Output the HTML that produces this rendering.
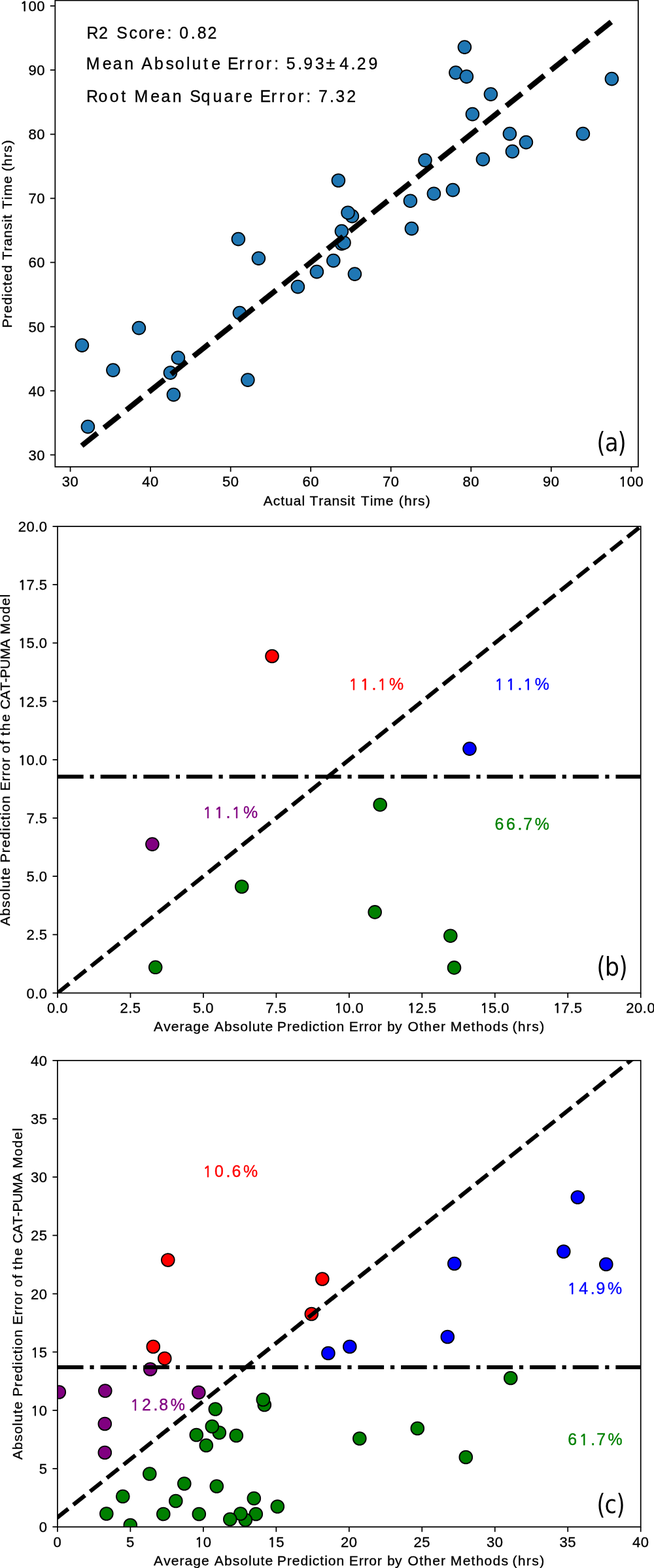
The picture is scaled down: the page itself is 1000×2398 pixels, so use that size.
<!DOCTYPE html>
<html lang="en"><head><meta charset="utf-8"><title>CAT-PUMA transit time prediction</title>
<style>html,body{margin:0;padding:0;background:#fff}svg{display:block}text{font-family:"Liberation Sans",sans-serif;stroke:#000;stroke-width:.35px}.p{font-family:"DejaVu Sans",sans-serif;stroke:none}.o{font-family:NanumGothic,"Liberation Sans",sans-serif;stroke-width:.85px}.t{letter-spacing:0.5px}</style></head><body>
<svg width="1000" height="2398" viewBox="0 0 1000 2398">
<rect width="1000" height="2398" fill="#fff"/>
<defs>
<clipPath id="ca"><rect x="84.3" y="0.65" width="891.5500000000001" height="713.25"/></clipPath>
<clipPath id="cb"><rect x="88.0" y="805.05" width="891.7" height="713.55"/></clipPath>
<clipPath id="cc"><rect x="87.9" y="1621.85" width="891.8000000000001" height="713.3499999999999"/></clipPath>
</defs>
<g clip-path="url(#ca)">
<g fill="#1f77b4" stroke="#000" stroke-width="1.8">
<circle cx="125.4" cy="528.1" r="9.9"/>
<circle cx="134.4" cy="652.6" r="9.9"/>
<circle cx="172.9" cy="566.1" r="9.9"/>
<circle cx="212.4" cy="501.6" r="9.9"/>
<circle cx="260.4" cy="570.1" r="9.9"/>
<circle cx="272.4" cy="547.1" r="9.9"/>
<circle cx="265.4" cy="603.6" r="9.9"/>
<circle cx="364.4" cy="365.6" r="9.9"/>
<circle cx="366.4" cy="478.6" r="9.9"/>
<circle cx="378.9" cy="581.1" r="9.9"/>
<circle cx="395.4" cy="395.1" r="9.9"/>
<circle cx="455.4" cy="438.6" r="9.9"/>
<circle cx="484.4" cy="415.6" r="9.9"/>
<circle cx="509.8" cy="398.6" r="9.9"/>
<circle cx="542.4" cy="419.1" r="9.9"/>
<circle cx="522.4" cy="372.6" r="9.9"/>
<circle cx="526.0" cy="371.2" r="9.9"/>
<circle cx="522.4" cy="353.6" r="9.9"/>
<circle cx="538.4" cy="330.6" r="9.9"/>
<circle cx="532.0" cy="325.2" r="9.9"/>
<circle cx="517.4" cy="276.0" r="9.9"/>
<circle cx="627.4" cy="307.2" r="9.9"/>
<circle cx="663.4" cy="296.2" r="9.9"/>
<circle cx="629.4" cy="349.6" r="9.9"/>
<circle cx="650.0" cy="245.1" r="9.9"/>
<circle cx="692.4" cy="290.6" r="9.9"/>
<circle cx="738.4" cy="243.6" r="9.9"/>
<circle cx="783.4" cy="231.6" r="9.9"/>
<circle cx="779.4" cy="204.6" r="9.9"/>
<circle cx="804.4" cy="217.6" r="9.9"/>
<circle cx="891.4" cy="204.6" r="9.9"/>
<circle cx="935.4" cy="120.6" r="9.9"/>
<circle cx="722.4" cy="174.6" r="9.9"/>
<circle cx="750.4" cy="144.1" r="9.9"/>
<circle cx="696.9" cy="111.1" r="9.9"/>
<circle cx="713.4" cy="117.1" r="9.9"/>
<circle cx="710.4" cy="72.1" r="9.9"/>
</g>
<path d="M125 681.6L934.8 33.4" stroke="#000" stroke-width="8.26" stroke-dasharray="30.55 13.21" fill="none"/>
</g>
<rect x="84.3" y="0.65" width="891.5500000000001" height="713.25" fill="none" stroke="#000" stroke-width="1.75"/>
<path d="M107.55 713.9v7.5M230.09 713.9v7.5M352.63 713.9v7.5M475.17 713.9v7.5M597.71 713.9v7.5M720.25 713.9v7.5M842.79 713.9v7.5M965.33 713.9v7.5M84.3 695.7h-7.5M84.3 597.61h-7.5M84.3 499.52h-7.5M84.3 401.43h-7.5M84.3 303.34h-7.5M84.3 205.25h-7.5M84.3 107.16h-7.5M84.3 9.07h-7.5" stroke="#000" stroke-width="1.75" fill="none"/>
<text transform="translate(107.55 744.2)" font-size="22" text-anchor="middle" class="t">30</text>
<text transform="translate(230.09 744.2)" font-size="22" text-anchor="middle" class="t">40</text>
<text transform="translate(352.63 744.2)" font-size="22" text-anchor="middle" class="t">50</text>
<text transform="translate(475.17 744.2)" font-size="22" text-anchor="middle" class="t">60</text>
<text transform="translate(597.71 744.2)" font-size="22" text-anchor="middle" class="t">70</text>
<text transform="translate(720.25 744.2)" font-size="22" text-anchor="middle" class="t">80</text>
<text transform="translate(842.79 744.2)" font-size="22" text-anchor="middle" class="t">90</text>
<text transform="translate(965.33 744.2)" font-size="22" text-anchor="middle" class="t"><tspan class="o" font-size="19.8">1</tspan>00</text>
<text transform="translate(68.9 703.7)" font-size="22" text-anchor="end" class="t">30</text>
<text transform="translate(68.9 605.61)" font-size="22" text-anchor="end" class="t">40</text>
<text transform="translate(68.9 507.52)" font-size="22" text-anchor="end" class="t">50</text>
<text transform="translate(68.9 409.43)" font-size="22" text-anchor="end" class="t">60</text>
<text transform="translate(68.9 311.34)" font-size="22" text-anchor="end" class="t">70</text>
<text transform="translate(68.9 213.25)" font-size="22" text-anchor="end" class="t">80</text>
<text transform="translate(68.9 115.16)" font-size="22" text-anchor="end" class="t">90</text>
<text transform="translate(68.9 17.07)" font-size="22" text-anchor="end" class="t"><tspan class="o" font-size="19.8">1</tspan>00</text>
<text x="135.30 154.03 168.16 181.89 201.43 216.36 231.75 243.22 260.76 267.81 279.82 297.67 307.89 324.06" y="58.6" font-size="25.4" transform="scale(0.98 1)">R2 Score: 0.82</text>
<text x="134.57 159.90 176.33 194.09 208.22 220.71 240.87 258.65 273.29 290.79 299.59 317.29 329.95 344.08 355.22 372.84 385.34 397.78 415.04 427.80 434.85 446.79 464.43 473.81 491.48 508.58 529.75 547.49 556.97 575.09" y="105.6" font-size="25.4" transform="scale(0.98 1)">Mean Absolute Error: 5.93±4.29</text>
<text x="134.66 153.50 171.25 188.97 196.03 209.57 234.90 251.48 269.04 283.17 296.13 313.88 332.24 349.54 367.18 379.95 394.08 405.68 423.30 435.65 447.89 465.44 477.85 484.91 496.90 514.33 523.73 541.15" y="156" font-size="25.4" transform="scale(0.98 1)">Root Mean Square Error: 7.32</text>
<text x="398.67 413.58 425.00 431.77 444.36 456.95 461.60 468.94 482.45 490.15 502.52 514.89 526.09 531.48 537.28 546.36 560.05 565.62 583.96 595.58 603.75 611.89 624.68 632.81 644.44" y="773.0" font-size="20.9" transform="scale(1.01 1)">Actual Transit Time (hrs)</text>
<text x="-496.66 -481.88 -474.08 -461.61 -449.14 -443.66 -432.36 -425.71 -413.25 -401.62 -393.54 -380.08 -372.42 -360.10 -347.78 -336.64 -331.30 -325.49 -316.31 -302.42 -296.65 -278.12 -266.50 -259.51 -251.43 -238.69 -230.60 -219.03" y="0" font-size="20.9" transform="translate(18.0 0) rotate(-90) scale(1.01 1)">Predicted Transit Time (hrs)</text>
<text class="p" transform="translate(912.52 0) scale(0.8 1)" font-size="41.9"><tspan x="0" y="691.6">(</tspan><tspan x="15.60" y="690" font-size="37.3" textLength="25.72" lengthAdjust="spacingAndGlyphs">a</tspan><tspan x="39.97" y="691.6">)</tspan></text>
<g clip-path="url(#cb)">
<g fill="#ff0000" stroke="#000" stroke-width="1.8">
<circle cx="416" cy="1003.5" r="9.9"/>
</g>
<g fill="#0000ff" stroke="#000" stroke-width="1.8">
<circle cx="718" cy="1145.1" r="9.9"/>
</g>
<g fill="#800080" stroke="#000" stroke-width="1.8">
<circle cx="232.9" cy="1291.1" r="9.9"/>
</g>
<g fill="#008000" stroke="#000" stroke-width="1.8">
<circle cx="369.7" cy="1356.0" r="9.9"/>
<circle cx="237.7" cy="1479.3" r="9.9"/>
<circle cx="581.2" cy="1230.7" r="9.9"/>
<circle cx="573.2" cy="1394.9" r="9.9"/>
<circle cx="688.8" cy="1431.2" r="9.9"/>
<circle cx="694.5" cy="1479.9" r="9.9"/>
</g>
<path d="M88 1518.6L979.7 805.05" stroke="#000" stroke-width="6.2" stroke-dasharray="22.91 9.91" fill="none"/>
<path d="M88 1187.75H979.7" stroke="#000" stroke-width="6.2" stroke-dasharray="39.64 9.91 6.19 9.91" fill="none"/>
</g>
<rect x="88.0" y="805.05" width="891.7" height="713.55" fill="none" stroke="#000" stroke-width="1.75"/>
<path d="M88.0 1518.6v7.5M199.46 1518.6v7.5M310.93 1518.6v7.5M422.39 1518.6v7.5M533.85 1518.6v7.5M645.31 1518.6v7.5M756.77 1518.6v7.5M868.24 1518.6v7.5M979.7 1518.6v7.5M88.0 1518.6h-7.5M88.0 1429.41h-7.5M88.0 1340.21h-7.5M88.0 1251.02h-7.5M88.0 1161.82h-7.5M88.0 1072.63h-7.5M88.0 983.44h-7.5M88.0 894.24h-7.5M88.0 805.05h-7.5" stroke="#000" stroke-width="1.75" fill="none"/>
<text transform="translate(88.0 1548.9)" font-size="22" text-anchor="middle" class="t">0.0</text>
<text transform="translate(199.46 1548.9)" font-size="22" text-anchor="middle" class="t">2.5</text>
<text transform="translate(310.93 1548.9)" font-size="22" text-anchor="middle" class="t">5.0</text>
<text transform="translate(422.39 1548.9)" font-size="22" text-anchor="middle" class="t">7.5</text>
<text transform="translate(533.85 1548.9)" font-size="22" text-anchor="middle" class="t"><tspan class="o" font-size="19.8">1</tspan>0.0</text>
<text transform="translate(645.31 1548.9)" font-size="22" text-anchor="middle" class="t"><tspan class="o" font-size="19.8">1</tspan>2.5</text>
<text transform="translate(756.77 1548.9)" font-size="22" text-anchor="middle" class="t"><tspan class="o" font-size="19.8">1</tspan>5.0</text>
<text transform="translate(868.24 1548.9)" font-size="22" text-anchor="middle" class="t"><tspan class="o" font-size="19.8">1</tspan>7.5</text>
<text transform="translate(979.7 1548.9)" font-size="22" text-anchor="middle" class="t">20.0</text>
<text transform="translate(72.6 1526.6)" font-size="22" text-anchor="end" class="t">0.0</text>
<text transform="translate(72.6 1437.41)" font-size="22" text-anchor="end" class="t">2.5</text>
<text transform="translate(72.6 1348.21)" font-size="22" text-anchor="end" class="t">5.0</text>
<text transform="translate(72.6 1259.02)" font-size="22" text-anchor="end" class="t">7.5</text>
<text transform="translate(72.6 1169.82)" font-size="22" text-anchor="end" class="t"><tspan class="o" font-size="19.8">1</tspan>0.0</text>
<text transform="translate(72.6 1080.63)" font-size="22" text-anchor="end" class="t"><tspan class="o" font-size="19.8">1</tspan>2.5</text>
<text transform="translate(72.6 991.44)" font-size="22" text-anchor="end" class="t"><tspan class="o" font-size="19.8">1</tspan>5.0</text>
<text transform="translate(72.6 902.24)" font-size="22" text-anchor="end" class="t"><tspan class="o" font-size="19.8">1</tspan>7.5</text>
<text transform="translate(72.6 813.05)" font-size="22" text-anchor="end" class="t">20.0</text>
<text x="232.73 247.67 259.12 271.74 279.70 292.33 304.95 316.57 324.51 339.49 352.15 363.64 376.30 381.98 394.64 401.48 413.11 419.57 434.46 442.37 454.95 467.52 473.11 484.51 491.27 496.86 509.44 521.06 528.58 543.28 551.00 558.73 571.11 578.07 586.08 598.11 608.56 617.43 634.86 641.84 654.65 667.45 674.41 682.05 700.65 713.47 720.47 733.29 746.10 758.92 769.37 775.63 783.94 796.91 805.21 817.01" y="1576.6" font-size="20.9" transform="scale(1.01 1)">Average Absolute Prediction Error by Other Methods (hrs)</text>
<text x="-1401.77 -1386.90 -1374.35 -1362.97 -1350.41 -1344.84 -1332.28 -1325.55 -1313.92 -1306.17 -1291.32 -1283.46 -1270.93 -1258.40 -1252.85 -1241.49 -1234.78 -1229.23 -1216.70 -1205.08 -1197.51 -1182.69 -1174.86 -1167.03 -1154.53 -1147.57 -1140.53 -1127.42 -1121.61 -1114.18 -1106.56 -1093.12 -1081.50 -1074.08 -1059.36 -1045.79 -1033.39 -1026.80 -1013.24 -998.51 -981.47 -967.53 -960.63 -942.25 -929.66 -917.07 -904.48" y="0" font-size="20.9" transform="translate(15.2 0) rotate(-90) scale(1.01 1)">Absolute Prediction Error of the CAT-PUMA Model</text>
<text x="544.50 562.36 580.22 589.20 607.05" y="1054.8" font-size="25.4" fill="#ff0000" style="stroke:#ff0000" transform="scale(0.98 1)"><tspan class="o" font-size="22.86">11</tspan>.<tspan class="o" font-size="22.86">1</tspan>%</text>
<text x="771.85 789.71 807.57 816.54 834.40" y="1054.8" font-size="25.4" fill="#0000ff" style="stroke:#0000ff" transform="scale(0.98 1)"><tspan class="o" font-size="22.86">11</tspan>.<tspan class="o" font-size="22.86">1</tspan>%</text>
<text x="316.95 334.81 352.67 361.65 379.50" y="1250.8" font-size="25.4" fill="#800080" style="stroke:#800080" transform="scale(0.98 1)"><tspan class="o" font-size="22.86">11</tspan>.<tspan class="o" font-size="22.86">1</tspan>%</text>
<text x="771.98 789.83 807.69 816.67 834.53" y="1269" font-size="25.4" fill="#008000" style="stroke:#008000" transform="scale(0.98 1)">66.7%</text>
<text class="p" transform="translate(912.52 0) scale(0.8 1)" font-size="41.9"><tspan x="0" y="1493.6">(</tspan><tspan x="15.35" y="1492" font-size="39" textLength="27.86" lengthAdjust="spacingAndGlyphs">b</tspan><tspan x="42.47" y="1493.6">)</tspan></text>
<g clip-path="url(#cc)">
<g transform="translate(0.3 0.5)">
<g fill="#800080" stroke="#000" stroke-width="1.8">
<circle cx="229.5" cy="2093.5" r="9.9"/>
<circle cx="90" cy="2128.5" r="9.9"/>
<circle cx="160.5" cy="2126.5" r="9.9"/>
<circle cx="303.5" cy="2129" r="9.9"/>
<circle cx="160" cy="2177" r="9.9"/>
<circle cx="160" cy="2221" r="9.9"/>
</g>
<g fill="#008000" stroke="#000" stroke-width="1.8">
<circle cx="404" cy="2148" r="9.9"/>
<circle cx="402" cy="2140" r="9.9"/>
<circle cx="329" cy="2154.5" r="9.9"/>
<circle cx="335" cy="2190.5" r="9.9"/>
<circle cx="324" cy="2181" r="9.9"/>
<circle cx="361" cy="2195" r="9.9"/>
<circle cx="300" cy="2194" r="9.9"/>
<circle cx="315" cy="2210" r="9.9"/>
<circle cx="228.5" cy="2253.5" r="9.9"/>
<circle cx="281.5" cy="2268.5" r="9.9"/>
<circle cx="331" cy="2272.5" r="9.9"/>
<circle cx="187.5" cy="2288" r="9.9"/>
<circle cx="268.5" cy="2295" r="9.9"/>
<circle cx="388" cy="2291" r="9.9"/>
<circle cx="424" cy="2303.5" r="9.9"/>
<circle cx="162.5" cy="2314.5" r="9.9"/>
<circle cx="249.5" cy="2315" r="9.9"/>
<circle cx="304" cy="2315" r="9.9"/>
<circle cx="391" cy="2315" r="9.9"/>
<circle cx="375" cy="2324" r="9.9"/>
<circle cx="367.5" cy="2314.5" r="9.9"/>
<circle cx="351.5" cy="2323" r="9.9"/>
<circle cx="199" cy="2332" r="9.9"/>
<circle cx="780.5" cy="2107" r="9.9"/>
<circle cx="638" cy="2184" r="9.9"/>
<circle cx="549.5" cy="2199.5" r="9.9"/>
<circle cx="712" cy="2228" r="9.9"/>
</g>
<g fill="#0000ff" stroke="#000" stroke-width="1.8">
<circle cx="883" cy="1830.5" r="9.9"/>
<circle cx="861.5" cy="1913.5" r="9.9"/>
<circle cx="926.5" cy="1933" r="9.9"/>
<circle cx="694.5" cy="1932" r="9.9"/>
<circle cx="501.6" cy="2069" r="9.9"/>
<circle cx="534.5" cy="2059" r="9.9"/>
<circle cx="684" cy="2044" r="9.9"/>
</g>
<g fill="#ff0000" stroke="#000" stroke-width="1.8">
<circle cx="256.5" cy="1926.5" r="9.9"/>
<circle cx="492.5" cy="1955.5" r="9.9"/>
<circle cx="476" cy="2009" r="9.9"/>
<circle cx="234" cy="2059" r="9.9"/>
<circle cx="251.5" cy="2077" r="9.9"/>
</g>
</g>
<path d="M86.44 2321.75L1000 1593.43" stroke="#000" stroke-width="6.2" stroke-dasharray="22.91 9.91" fill="none"/>
<path d="M87.9 2091H979.7" stroke="#000" stroke-width="6.2" stroke-dasharray="39.64 9.91 6.19 9.91" fill="none"/>
</g>
<rect x="87.9" y="1621.85" width="891.8000000000001" height="713.3499999999999" fill="none" stroke="#000" stroke-width="1.75"/>
<path d="M87.9 2335.2v7.5M199.38 2335.2v7.5M310.85 2335.2v7.5M422.33 2335.2v7.5M533.8 2335.2v7.5M645.27 2335.2v7.5M756.75 2335.2v7.5M868.23 2335.2v7.5M979.7 2335.2v7.5M87.9 2335.2h-7.5M87.9 2246.03h-7.5M87.9 2156.86h-7.5M87.9 2067.69h-7.5M87.9 1978.52h-7.5M87.9 1889.35h-7.5M87.9 1800.18h-7.5M87.9 1711.01h-7.5M87.9 1621.84h-7.5" stroke="#000" stroke-width="1.75" fill="none"/>
<text transform="translate(87.9 2365.5)" font-size="22" text-anchor="middle" class="t">0</text>
<text transform="translate(199.38 2365.5)" font-size="22" text-anchor="middle" class="t">5</text>
<text transform="translate(310.85 2365.5)" font-size="22" text-anchor="middle" class="t"><tspan class="o" font-size="19.8">1</tspan>0</text>
<text transform="translate(422.33 2365.5)" font-size="22" text-anchor="middle" class="t"><tspan class="o" font-size="19.8">1</tspan>5</text>
<text transform="translate(533.8 2365.5)" font-size="22" text-anchor="middle" class="t">20</text>
<text transform="translate(645.27 2365.5)" font-size="22" text-anchor="middle" class="t">25</text>
<text transform="translate(756.75 2365.5)" font-size="22" text-anchor="middle" class="t">30</text>
<text transform="translate(868.23 2365.5)" font-size="22" text-anchor="middle" class="t">35</text>
<text transform="translate(979.7 2365.5)" font-size="22" text-anchor="middle" class="t">40</text>
<text transform="translate(72.5 2343.2)" font-size="22" text-anchor="end" class="t">0</text>
<text transform="translate(72.5 2254.03)" font-size="22" text-anchor="end" class="t">5</text>
<text transform="translate(72.5 2164.86)" font-size="22" text-anchor="end" class="t"><tspan class="o" font-size="19.8">1</tspan>0</text>
<text transform="translate(72.5 2075.69)" font-size="22" text-anchor="end" class="t"><tspan class="o" font-size="19.8">1</tspan>5</text>
<text transform="translate(72.5 1986.52)" font-size="22" text-anchor="end" class="t">20</text>
<text transform="translate(72.5 1897.35)" font-size="22" text-anchor="end" class="t">25</text>
<text transform="translate(72.5 1808.18)" font-size="22" text-anchor="end" class="t">30</text>
<text transform="translate(72.5 1719.01)" font-size="22" text-anchor="end" class="t">35</text>
<text transform="translate(72.5 1629.84)" font-size="22" text-anchor="end" class="t">40</text>
<text x="232.73 247.67 259.12 271.74 279.70 292.33 304.95 316.57 324.51 339.49 352.15 363.64 376.30 381.98 394.64 401.48 413.11 419.57 434.46 442.37 454.95 467.52 473.11 484.51 491.27 496.86 509.44 521.06 528.58 543.28 551.00 558.73 571.11 578.07 586.08 598.11 608.56 617.43 634.86 641.84 654.65 667.45 674.41 682.05 700.65 713.47 720.47 733.29 746.10 758.92 769.37 775.63 783.94 796.91 805.21 817.01" y="2394.3" font-size="20.9" transform="scale(1.01 1)">Average Absolute Prediction Error by Other Methods (hrs)</text>
<text x="-1401.77 -1386.90 -1374.35 -1362.97 -1350.41 -1344.84 -1332.28 -1325.55 -1313.92 -1306.17 -1291.32 -1283.46 -1270.93 -1258.40 -1252.85 -1241.49 -1234.78 -1229.23 -1216.70 -1205.08 -1197.51 -1182.69 -1174.86 -1167.03 -1154.53 -1147.57 -1140.53 -1127.42 -1121.61 -1114.18 -1106.56 -1093.12 -1081.50 -1074.08 -1059.36 -1045.79 -1033.39 -1026.80 -1013.24 -998.51 -981.47 -967.53 -960.63 -942.25 -929.66 -917.07 -904.48" y="0" font-size="20.9" transform="translate(34.1 816.5) rotate(-90) scale(1.01 1)">Absolute Prediction Error of the CAT-PUMA Model</text>
<text x="316.95 334.81 352.67 361.65 379.50" y="1800" font-size="25.4" fill="#ff0000" style="stroke:#ff0000" transform="scale(0.98 1)"><tspan class="o" font-size="22.86">1</tspan>0.6%</text>
<text x="885.52 903.38 921.24 930.22 948.08" y="1979" font-size="25.4" fill="#0000ff" style="stroke:#0000ff" transform="scale(0.98 1)"><tspan class="o" font-size="22.86">1</tspan>4.9%</text>
<text x="203.48 221.34 239.20 248.18 266.03" y="2156.7" font-size="25.4" fill="#800080" style="stroke:#800080" transform="scale(0.98 1)"><tspan class="o" font-size="22.86">1</tspan>2.8%</text>
<text x="886.06 903.91 921.77 930.75 948.61" y="2210.2" font-size="25.4" fill="#008000" style="stroke:#008000" transform="scale(0.98 1)">6<tspan class="o" font-size="22.86">1</tspan>.7%</text>
<text class="p" transform="translate(912.52 0) scale(0.8 1)" font-size="41.9"><tspan x="0" y="2315.6">(</tspan><tspan x="15.10" y="2314" font-size="37.3" textLength="23.08" lengthAdjust="spacingAndGlyphs">c</tspan><tspan x="37.47" y="2315.6">)</tspan></text>
</svg></body></html>
